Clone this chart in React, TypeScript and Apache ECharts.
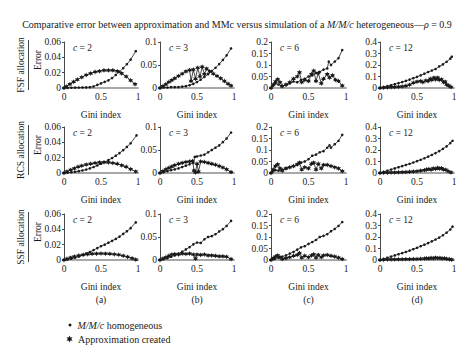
import React, { useEffect, useRef } from 'react';
import * as echarts from 'echarts';

// ---------- data ----------
const rowNames = ['FSF allocation', 'RCS allocation', 'SSF allocation'];
const serverCounts = [2, 3, 6, 12];
const panelTags = ['(a)', '(b)', '(c)', '(d)'];
const yMaxByCol = [0.06, 0.1, 0.2, 0.4];
const yStepByCol = [0.02, 0.05, 0.05, 0.1];
const xTicks = [0, 0.5, 1];
const homogName = 'M/M/c homogeneous';
const approxName = 'Approximation created';
const titleText = 'Comparative error between approximation and MMc versus simulation of a {i|M/M/c} heterogeneous\u2014{i|\u03c1} = 0.9';

// FSF
const fsfC2Homog = [[0,0],[0.05,0.0002],[0.1,0.0004],[0.15,0.0005],[0.2,0.0006],[0.25,0.0007],[0.3,0.0008],[0.35,0.001],[0.4,0.002],[0.45,0.004],[0.5,0.006],[0.55,0.008],[0.6,0.01],[0.65,0.013],[0.7,0.017],[0.75,0.021],[0.8,0.026],[0.85,0.031],[0.9,0.037],[0.97,0.048]];
const fsfC2Approx = [[0,0],[0.03,0.002],[0.08,0.005],[0.13,0.008],[0.18,0.011],[0.24,0.014],[0.3,0.017],[0.36,0.019],[0.42,0.021],[0.48,0.022],[0.54,0.023],[0.6,0.023],[0.66,0.023],[0.72,0.022],[0.78,0.019],[0.84,0.015],[0.9,0.01],[0.96,0.005]];
const fsfC3Homog = [[0,0],[0.05,0.001],[0.1,0.001],[0.15,0.002],[0.2,0.002],[0.25,0.002],[0.3,0.003],[0.35,0.004],[0.4,0.006],[0.45,0.009],[0.5,0.013],[0.55,0.018],[0.6,0.024],[0.65,0.03],[0.7,0.037],[0.75,0.044],[0.8,0.052],[0.85,0.061],[0.9,0.071],[0.96,0.086]];
const fsfC3Approx = [[0,0],[0.04,0.004],[0.08,0.008],[0.12,0.013],[0.16,0.017],[0.2,0.021],[0.25,0.026],[0.3,0.031],[0.35,0.036],[0.4,0.039],[0.42,0.015],[0.45,0.04],[0.48,0.02],[0.51,0.044],[0.54,0.025],[0.57,0.046],[0.6,0.03],[0.63,0.042],[0.67,0.036],[0.72,0.031],[0.77,0.026],[0.82,0.021],[0.87,0.015],[0.92,0.009],[0.96,0.005]];
const fsfC6Homog = [[0,0],[0.03,0.01],[0.06,0.02],[0.1,0.015],[0.14,0.008],[0.2,0.012],[0.25,0.02],[0.3,0.028],[0.35,0.025],[0.4,0.035],[0.45,0.04],[0.5,0.05],[0.55,0.055],[0.6,0.065],[0.65,0.07],[0.7,0.08],[0.75,0.085],[0.77,0.115],[0.8,0.1],[0.85,0.115],[0.9,0.13],[0.95,0.165]];
const fsfC6Approx = [[0,0],[0.03,0.015],[0.06,0.028],[0.09,0.038],[0.12,0.025],[0.15,0.008],[0.2,0.015],[0.25,0.025],[0.3,0.04],[0.35,0.05],[0.38,0.068],[0.41,0.025],[0.45,0.035],[0.5,0.03],[0.54,0.06],[0.57,0.075],[0.6,0.03],[0.63,0.065],[0.67,0.02],[0.7,0.04],[0.75,0.06],[0.78,0.045],[0.82,0.055],[0.86,0.035],[0.9,0.03],[0.95,0.01]];
const fsfC12Homog = [[0,0],[0.05,0.008],[0.1,0.016],[0.15,0.024],[0.2,0.033],[0.25,0.042],[0.3,0.052],[0.35,0.062],[0.4,0.073],[0.45,0.085],[0.5,0.097],[0.55,0.11],[0.6,0.124],[0.65,0.139],[0.7,0.152],[0.75,0.165],[0.8,0.187],[0.85,0.205],[0.9,0.228],[0.95,0.255],[0.97,0.272]];
const fsfC12Approx = [[0,0],[0.05,0.003],[0.1,0.005],[0.15,0.007],[0.2,0.008],[0.25,0.01],[0.3,0.013],[0.35,0.018],[0.4,0.028],[0.45,0.045],[0.5,0.055],[0.55,0.06],[0.58,0.05],[0.62,0.065],[0.65,0.06],[0.68,0.08],[0.7,0.07],[0.73,0.09],[0.75,0.075],[0.78,0.09],[0.8,0.07],[0.83,0.075],[0.86,0.05],[0.88,0.055],[0.9,0.03],[0.93,0.02],[0.96,0.008]];

// RCS
const rcsC2Homog = [[0,0],[0.05,0.0004],[0.1,0.0009],[0.15,0.0016],[0.2,0.0024],[0.25,0.0033],[0.3,0.0045],[0.35,0.006],[0.4,0.0078],[0.45,0.0098],[0.5,0.012],[0.55,0.0143],[0.6,0.0168],[0.65,0.0195],[0.7,0.0225],[0.75,0.026],[0.8,0.0298],[0.85,0.034],[0.9,0.0388],[0.98,0.049]];
const rcsC2Approx = [[0,0],[0.04,0.002],[0.09,0.004],[0.14,0.006],[0.19,0.008],[0.24,0.0095],[0.3,0.011],[0.36,0.012],[0.42,0.013],[0.48,0.0138],[0.54,0.014],[0.6,0.0138],[0.66,0.013],[0.72,0.012],[0.78,0.01],[0.84,0.008],[0.9,0.005],[0.97,0.002]];
const rcsC3Homog = [[0,0],[0.05,0.002],[0.1,0.004],[0.15,0.006],[0.2,0.008],[0.25,0.01],[0.3,0.013],[0.35,0.016],[0.4,0.019],[0.45,0.022],[0.47,0.035],[0.5,0.036],[0.55,0.038],[0.6,0.04],[0.65,0.045],[0.7,0.05],[0.75,0.055],[0.8,0.06],[0.85,0.067],[0.9,0.075],[0.96,0.088]];
const rcsC3Approx = [[0,0],[0.04,0.004],[0.08,0.008],[0.12,0.011],[0.16,0.014],[0.2,0.017],[0.25,0.02],[0.3,0.022],[0.35,0.024],[0.4,0.025],[0.44,0.026],[0.46,0.005],[0.48,0.001],[0.5,0.02],[0.52,0.003],[0.55,0.025],[0.6,0.024],[0.65,0.022],[0.7,0.02],[0.75,0.018],[0.8,0.015],[0.85,0.012],[0.9,0.008],[0.96,0.002]];
const rcsC6Homog = [[0,0],[0.03,0.008],[0.06,0.012],[0.1,0.01],[0.15,0.015],[0.2,0.02],[0.25,0.025],[0.3,0.03],[0.35,0.035],[0.4,0.045],[0.45,0.05],[0.5,0.06],[0.55,0.075],[0.6,0.08],[0.65,0.09],[0.7,0.095],[0.75,0.11],[0.78,0.12],[0.8,0.11],[0.85,0.125],[0.9,0.14],[0.95,0.166]];
const rcsC6Approx = [[0,0],[0.03,0.015],[0.06,0.03],[0.09,0.038],[0.12,0.02],[0.15,0.01],[0.2,0.02],[0.25,0.025],[0.3,0.03],[0.35,0.038],[0.38,0.045],[0.41,0.015],[0.45,0.025],[0.5,0.02],[0.54,0.04],[0.57,0.045],[0.6,0.015],[0.63,0.04],[0.67,0.02],[0.7,0.035],[0.75,0.035],[0.8,0.03],[0.85,0.025],[0.9,0.02],[0.95,0.008]];
const rcsC12Homog = [[0,0],[0.05,0.01],[0.1,0.02],[0.15,0.03],[0.2,0.04],[0.25,0.05],[0.3,0.06],[0.35,0.07],[0.4,0.08],[0.45,0.091],[0.5,0.103],[0.55,0.115],[0.6,0.128],[0.65,0.142],[0.7,0.157],[0.75,0.173],[0.8,0.19],[0.85,0.21],[0.9,0.232],[0.95,0.26],[0.98,0.28]];
const rcsC12Approx = [[0,0],[0.05,0.002],[0.1,0.003],[0.15,0.004],[0.2,0.005],[0.25,0.006],[0.3,0.007],[0.35,0.008],[0.4,0.01],[0.45,0.012],[0.5,0.015],[0.55,0.02],[0.6,0.025],[0.63,0.03],[0.66,0.035],[0.69,0.028],[0.72,0.04],[0.75,0.035],[0.78,0.045],[0.8,0.038],[0.83,0.042],[0.86,0.03],[0.89,0.028],[0.92,0.015],[0.96,0.005]];

// SSF
const ssfC2Homog = [[0,0],[0.05,0.0008],[0.1,0.0018],[0.15,0.003],[0.2,0.0045],[0.25,0.0065],[0.3,0.0085],[0.35,0.0105],[0.4,0.013],[0.45,0.0155],[0.5,0.018],[0.55,0.02],[0.6,0.0225],[0.65,0.025],[0.7,0.0275],[0.75,0.0305],[0.8,0.034],[0.85,0.0375],[0.9,0.0415],[0.97,0.049]];
const ssfC2Approx = [[0,0],[0.04,0.0015],[0.09,0.003],[0.14,0.0045],[0.2,0.0058],[0.26,0.0068],[0.32,0.0075],[0.38,0.008],[0.44,0.0083],[0.5,0.0085],[0.56,0.0083],[0.62,0.008],[0.68,0.0075],[0.74,0.0068],[0.8,0.0055],[0.86,0.004],[0.92,0.0022],[0.97,0.0005]];
const ssfC3Homog = [[0,0],[0.05,0.002],[0.1,0.004],[0.15,0.007],[0.2,0.01],[0.25,0.014],[0.3,0.018],[0.35,0.023],[0.4,0.028],[0.45,0.034],[0.5,0.038],[0.55,0.037],[0.6,0.045],[0.65,0.05],[0.7,0.052],[0.75,0.056],[0.8,0.062],[0.85,0.067],[0.9,0.074],[0.96,0.085]];
const ssfC3Approx = [[0,0],[0.04,0.003],[0.08,0.006],[0.12,0.009],[0.16,0.012],[0.2,0.013],[0.25,0.012],[0.3,0.014],[0.35,0.013],[0.4,0.014],[0.45,0.012],[0.48,0.003],[0.5,0.012],[0.55,0.011],[0.6,0.012],[0.65,0.01],[0.7,0.01],[0.75,0.009],[0.8,0.008],[0.85,0.008],[0.9,0.007],[0.96,0.002]];
const ssfC6Homog = [[0,0],[0.05,0.005],[0.1,0.01],[0.15,0.015],[0.2,0.02],[0.25,0.028],[0.3,0.035],[0.35,0.045],[0.4,0.055],[0.45,0.06],[0.5,0.07],[0.55,0.078],[0.6,0.087],[0.65,0.1],[0.7,0.105],[0.75,0.112],[0.8,0.125],[0.85,0.135],[0.9,0.148],[0.95,0.165]];
const ssfC6Approx = [[0,0],[0.03,0.008],[0.06,0.015],[0.09,0.02],[0.12,0.012],[0.15,0.004],[0.2,0.008],[0.25,0.012],[0.3,0.018],[0.35,0.022],[0.38,0.03],[0.41,0.01],[0.45,0.018],[0.5,0.012],[0.54,0.02],[0.57,0.025],[0.6,0.01],[0.63,0.022],[0.67,0.012],[0.7,0.02],[0.75,0.022],[0.8,0.018],[0.85,0.015],[0.9,0.01],[0.95,0.004]];
const ssfC12Homog = [[0,0],[0.05,0.01],[0.1,0.02],[0.15,0.03],[0.2,0.04],[0.25,0.05],[0.3,0.06],[0.35,0.07],[0.4,0.082],[0.45,0.094],[0.5,0.106],[0.55,0.12],[0.6,0.133],[0.65,0.147],[0.7,0.162],[0.75,0.178],[0.8,0.195],[0.85,0.215],[0.9,0.238],[0.95,0.265],[0.98,0.29]];
const ssfC12Approx = [[0,0],[0.05,0.002],[0.1,0.004],[0.15,0.005],[0.2,0.005],[0.25,0.006],[0.3,0.006],[0.35,0.007],[0.4,0.007],[0.45,0.008],[0.5,0.009],[0.55,0.01],[0.6,0.012],[0.63,0.015],[0.66,0.012],[0.69,0.018],[0.72,0.014],[0.75,0.02],[0.78,0.015],[0.81,0.018],[0.84,0.012],[0.87,0.015],[0.9,0.01],[0.94,0.006],[0.97,0.003]];

const homogSets = [
  [fsfC2Homog, fsfC3Homog, fsfC6Homog, fsfC12Homog],
  [rcsC2Homog, rcsC3Homog, rcsC6Homog, rcsC12Homog],
  [ssfC2Homog, ssfC3Homog, ssfC6Homog, ssfC12Homog],
];
const approxSets = [
  [fsfC2Approx, fsfC3Approx, fsfC6Approx, fsfC12Approx],
  [rcsC2Approx, rcsC3Approx, rcsC6Approx, rcsC12Approx],
  [ssfC2Approx, ssfC3Approx, ssfC6Approx, ssfC12Approx],
];

// ---------- layout / style ----------
const W = 474;
const H = 357;
const FONT = "'Liberation Serif', 'DejaVu Serif', serif";
const INK = '#1a1a1a';
const colLeft = [64, 160, 271, 380];
const colWidth = [74, 74, 75, 74];
const rowTop = [42, 127, 214];
const rowHeight = 46;

function starPath(): string {
  const pts: string[] = [];
  for (let k = 0; k < 12; k++) {
    const a = -Math.PI / 2 + (k * Math.PI) / 6;
    const r = k % 2 === 0 ? 10 : 5;
    pts.push(`${(10 + r * Math.cos(a)).toFixed(2)},${(10 + r * Math.sin(a)).toFixed(2)}`);
  }
  return 'path://M' + pts.join('L') + 'Z';
}
const STAR = starPath();

function buildOption() {
  const grids: any[] = [];
  const xAxes: any[] = [];
  const yAxes: any[] = [];
  const series: any[] = [];
  const graphics: any[] = [];

  for (let r = 0; r < 3; r++) {
    for (let c = 0; c < 4; c++) {
      const idx = r * 4 + c;
      grids.push({ left: colLeft[c], top: rowTop[r], width: colWidth[c], height: rowHeight });
      xAxes.push({
        type: 'value', gridIndex: idx, min: xTicks[0], max: xTicks[2], interval: 0.5,
        name: 'Gini index', nameLocation: 'middle', nameGap: 22,
        nameTextStyle: { fontFamily: FONT, fontSize: 9.5, color: INK },
        axisLine: { lineStyle: { color: '#a8a8a8', width: 2 } },
        axisTick: { show: false },
        splitLine: { show: false },
        axisLabel: { fontFamily: FONT, fontSize: 9.5, color: INK, margin: 4 },
      });
      yAxes.push({
        type: 'value', gridIndex: idx, min: 0, max: yMaxByCol[c], interval: yStepByCol[c],
        axisLine: { show: true, lineStyle: { color: INK, width: 0.8 } },
        axisTick: { show: true, length: 2, lineStyle: { color: INK, width: 0.8 } },
        splitLine: { show: false },
        axisLabel: { fontFamily: FONT, fontSize: 9.5, color: INK, margin: 3 },
      });
      series.push({
        name: homogName, type: 'line', xAxisIndex: idx, yAxisIndex: idx,
        data: homogSets[r][c], symbol: 'circle', symbolSize: 2.6, showSymbol: true, showAllSymbol: true,
        lineStyle: { color: INK, width: 0.8 }, itemStyle: { color: INK }, z: 3,
      });
      series.push({
        name: approxName, type: 'line', xAxisIndex: idx, yAxisIndex: idx,
        data: approxSets[r][c], symbol: STAR, symbolSize: 5, showSymbol: true, showAllSymbol: true,
        lineStyle: { color: INK, width: 0.8 }, itemStyle: { color: INK }, z: 4,
      });
      graphics.push({
        type: 'text', left: colLeft[c] + 9, top: rowTop[r] + 1,
        style: {
          text: `{i|c} = ${serverCounts[c]}`, fill: INK, font: `9.5px ${FONT}`,
          rich: { i: { fontStyle: 'italic', fontFamily: FONT, fontSize: 9.5, fill: INK } },
        },
      });
    }
    const cy = rowTop[r] + rowHeight / 2;
    graphics.push({
      type: 'text', x: 21, y: cy, rotation: Math.PI / 2,
      style: { text: rowNames[r], fill: INK, font: `9.5px ${FONT}`, align: 'center', verticalAlign: 'middle' },
    });
    graphics.push({
      type: 'line', shape: { x1: 28.5, y1: rowTop[r] - 2, x2: 28.5, y2: rowTop[r] + rowHeight + 2 },
      style: { stroke: INK, lineWidth: 0.8 },
    });
    graphics.push({
      type: 'text', x: 37.5, y: cy - 5, rotation: Math.PI / 2,
      style: { text: 'Error', fill: INK, font: `9.5px ${FONT}`, align: 'center', verticalAlign: 'middle' },
    });
  }
  for (let c = 0; c < 4; c++) {
    graphics.push({
      type: 'text', x: colLeft[c] + colWidth[c] / 2, y: 300,
      style: { text: panelTags[c], fill: INK, font: `9.5px ${FONT}`, align: 'center', verticalAlign: 'middle' },
    });
  }

  const legendText = {
    fontFamily: FONT, fontSize: 10, color: INK,
    rich: { i: { fontStyle: 'italic', fontFamily: FONT, fontSize: 10, color: INK } },
  };

  return {
    animation: false,
    backgroundColor: '#ffffff',
    title: {
      text: titleText, left: 'center', top: 14,
      textStyle: {
        fontFamily: FONT, fontSize: 10, fontWeight: 'normal', color: INK,
        rich: { i: { fontStyle: 'italic', fontFamily: FONT, fontSize: 10, color: INK } },
      },
    },
    legend: [
      {
        data: [{ name: homogName, icon: 'circle' }], left: 63.5, top: 315, itemWidth: 3, itemHeight: 3,
        formatter: () => '{i|M/M/c} homogeneous', textStyle: { ...legendText, padding: [0, 0, 0, 1] },
        selectedMode: false,
      },
      {
        data: [{ name: approxName, icon: STAR }], left: 61.5, top: 329, itemWidth: 7, itemHeight: 7,
        textStyle: { ...legendText }, selectedMode: false,
      },
    ],
    grid: grids,
    xAxis: xAxes,
    yAxis: yAxes,
    series,
    graphic: graphics,
  };
}

export default function App() {
  const ref = useRef<HTMLDivElement>(null);
  useEffect(() => {
    if (!ref.current) return;
    const chart = echarts.init(ref.current, undefined, { renderer: 'svg' });
    chart.setOption(buildOption() as any);
    return () => chart.dispose();
  }, []);
  return <div ref={ref} style={{ position: 'fixed', left: 0, top: 0, width: W, height: H }} />;
}
